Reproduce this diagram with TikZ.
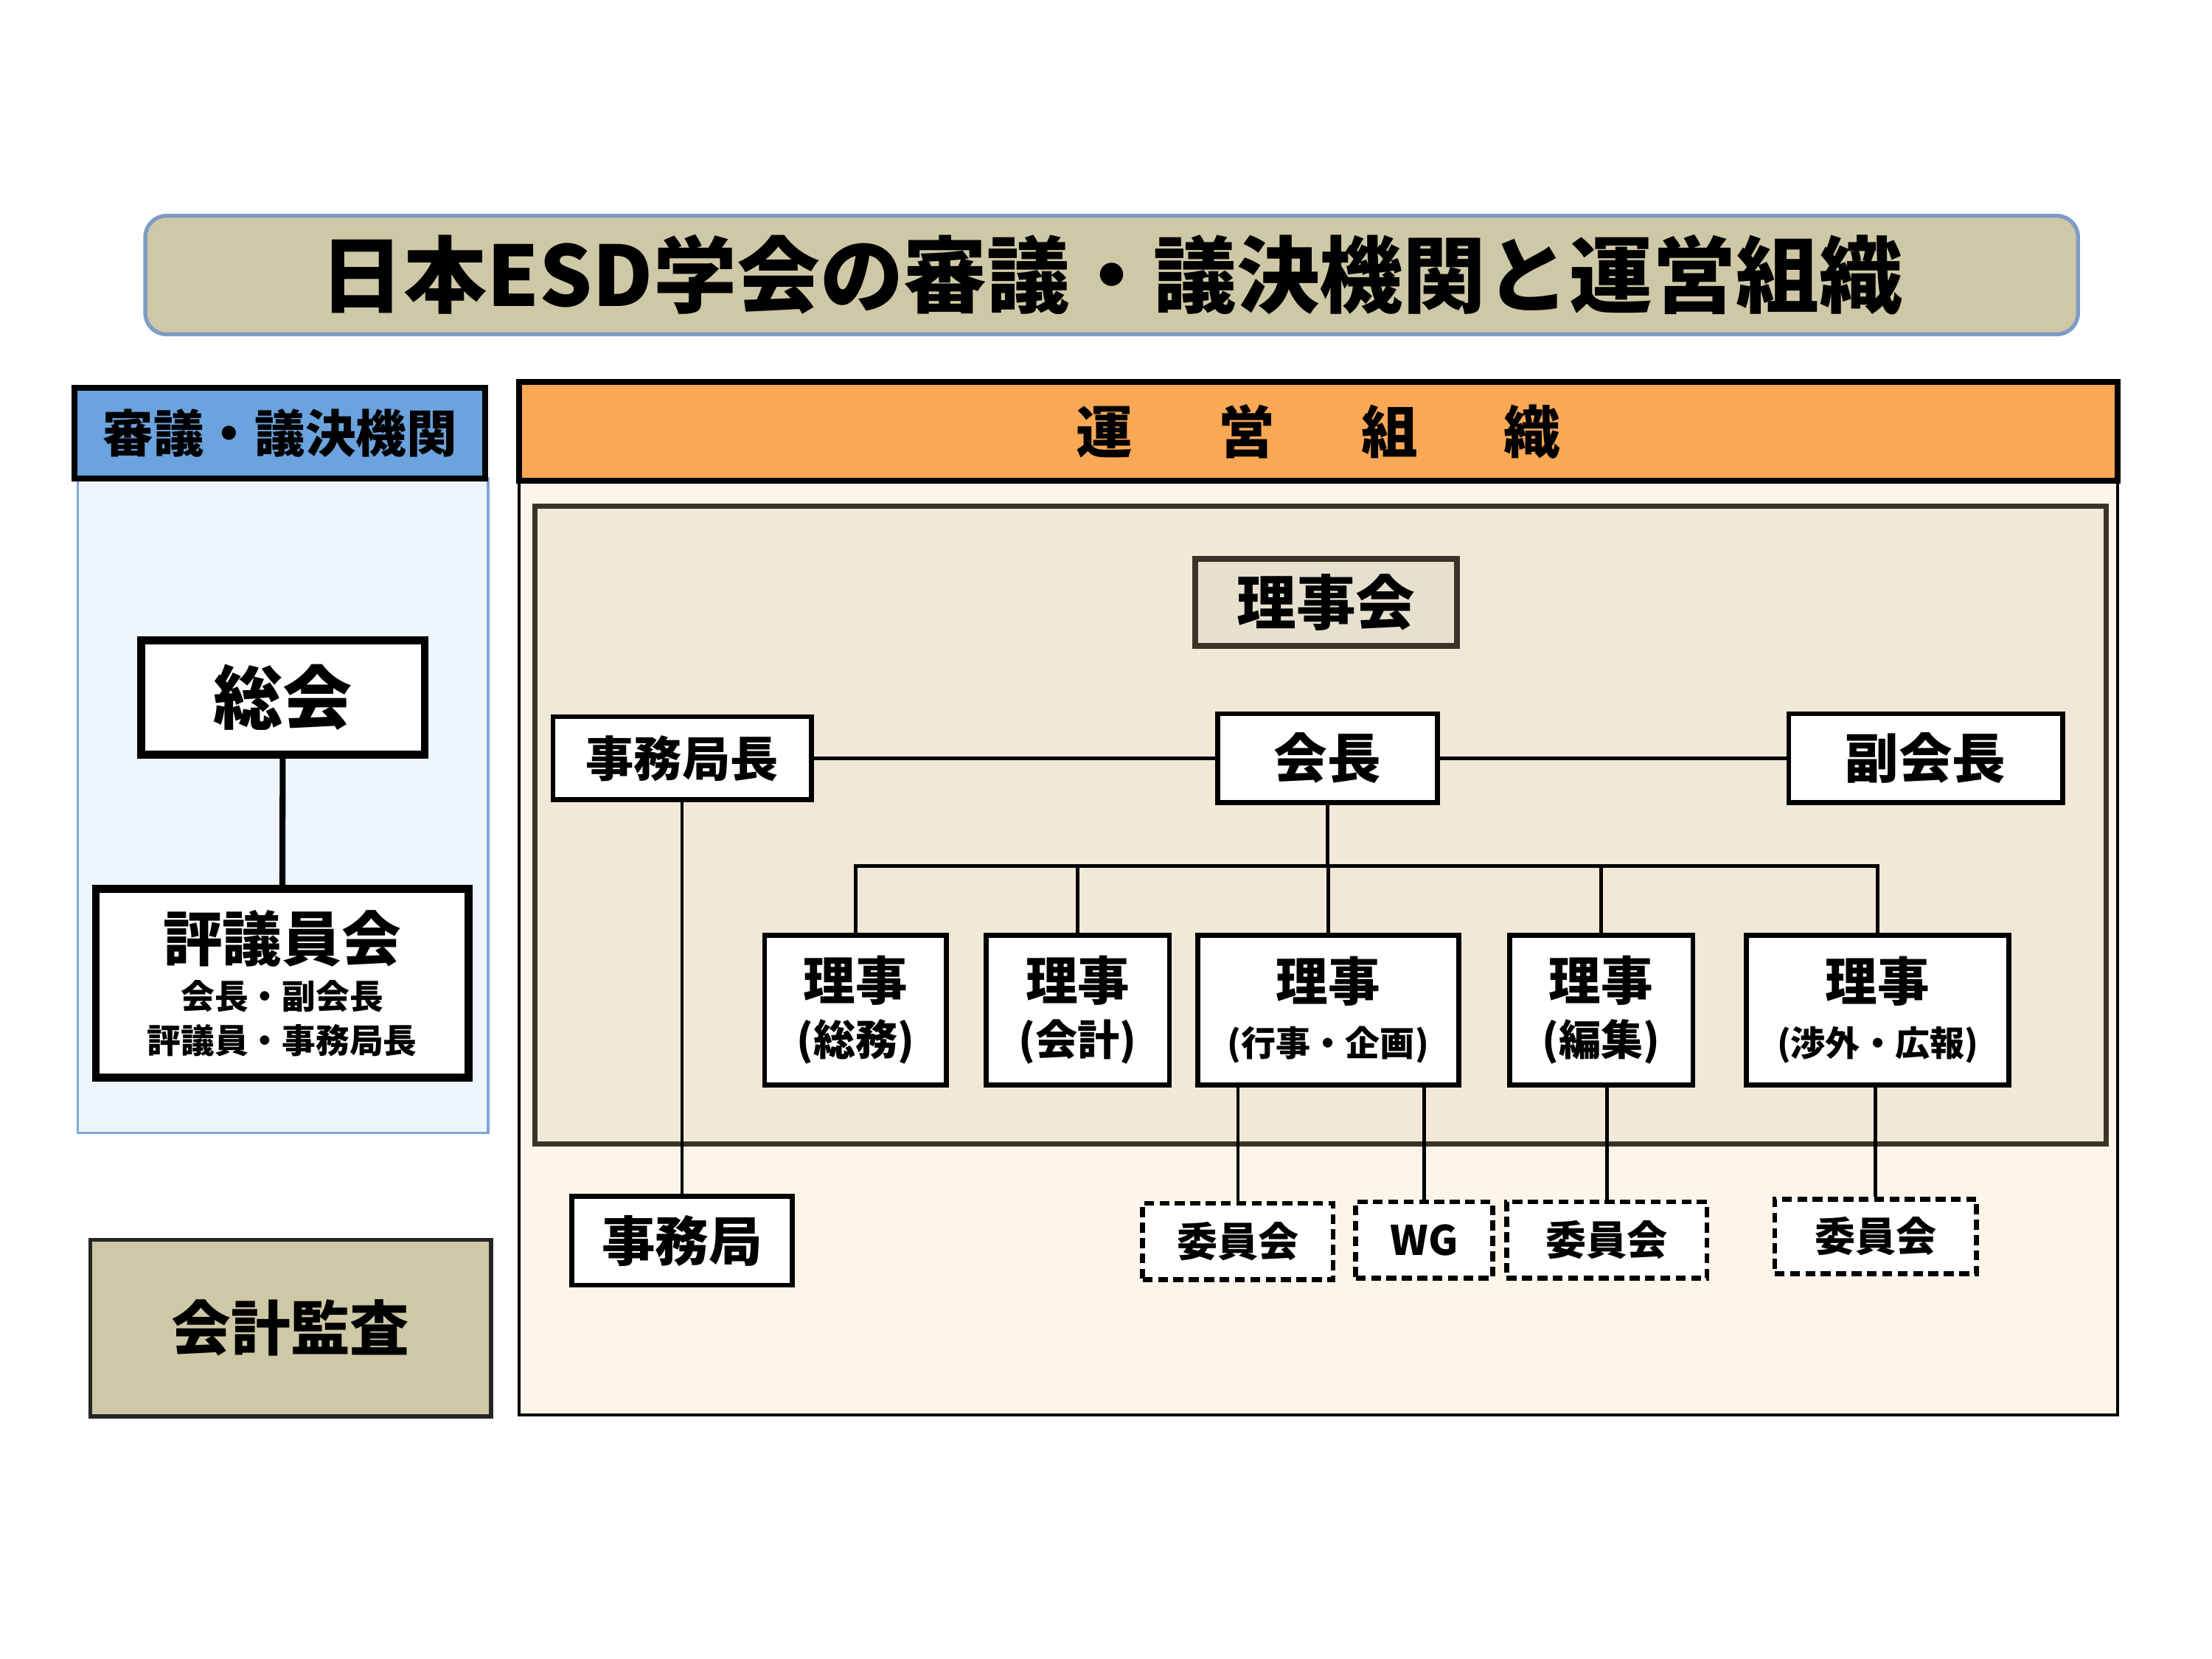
\documentclass[tikz,border=0pt]{standalone}
\usepackage{fontspec}
\setmainfont{Noto Sans CJK JP}
\usetikzlibrary{positioning}
\definecolor{tan}{HTML}{CEC8A6}
\definecolor{titleline}{HTML}{7E9CC4}
\definecolor{headblue}{HTML}{6BA3DE}
\definecolor{paleblue}{HTML}{EEF5FE}
\definecolor{paleline}{HTML}{7FA7D6}
\definecolor{headorange}{HTML}{F9A856}
\definecolor{cream}{HTML}{FDF5EA}
\definecolor{beige}{HTML}{F1E8D7}
\definecolor{greybeige}{HTML}{E6E1CF}
\definecolor{darkline}{HTML}{3A3428}
\newcommand{\fsz}[1]{\fontsize{#1}{1.15\dimexpr#1pt\relax}\selectfont\bfseries}

\begin{document}
\begin{tikzpicture}
  [every node/.style={draw,inner sep=0pt,align=center},
   box/.style={fill=white,line width=1pt},
   bigbox/.style={fill=white,line width=1.6pt},
   dbox/.style={fill=white,line width=1pt,dash pattern=on 2pt off 1.1pt},
   link/.style={line width=0.7pt}]
  \useasboundingbox (0,0) rectangle (15.68,11.76);
  \fill[white] (0,0) rectangle (15.68,11.76);
  \draw[fill=paleblue,draw=paleline,line width=0.5pt] (0.55,3.73) rectangle (3.46,8.37);
  \draw[fill=cream,line width=0.6pt] (3.68,1.73) rectangle (15.01,8.35);
  \draw[fill=beige,draw=darkline,line width=1pt] (3.79,3.65) rectangle (14.93,8.17);

  \node[fill=tan,draw=titleline,line width=0.8pt,rounded corners=0.15cm,minimum width=13.7cm,minimum height=0.84cm,
        font=\fsz{16.8}] (title) at (7.88,9.81) {日本ESD学会の審議・議決機関と運営組織};
  \node[fill=headblue,line width=1.2pt,minimum width=2.91cm,minimum height=0.64cm,font=\fsz{10.2}]
    (shingi) at (1.985,8.69) {審議・議決機関};
  \node[fill=headorange,line width=1.2pt,minimum width=11.33cm,minimum height=0.70cm,font=\fsz{11.4}]
    (unei) at (9.345,8.70) {運\hspace{0.61cm}営\hspace{0.61cm}組\hspace{0.61cm}織};

  \node[bigbox,minimum width=2.01cm,minimum height=0.81cm,font=\fsz{14}] (sokai) at (2.005,6.815) {総会};
  \node[bigbox,minimum width=2.64cm,minimum height=1.34cm,font=\fsz{12}] (hyogi) at (2.00,4.79)
    {評議員会\\[-4.1pt]\fsz{6.8}会長・副会長\\[-5pt]\fsz{6.8}評議員・事務局長};
  \node[fill=tan,draw=black!85,line width=0.8pt,minimum width=2.84cm,minimum height=1.25cm,font=\fsz{12}]
    (kansa) at (2.06,2.345) {会計監査};

  \node[fill=greybeige,draw=darkline,line width=1.2pt,minimum width=1.86cm,minimum height=0.62cm,font=\fsz{12}]
    (rijikai) at (9.40,7.49) {理事会};
  \node[box,minimum width=1.56cm,minimum height=0.63cm,font=\fsz{10.8}] (kaicho) at (9.41,6.385) {会長};
  \node[box,minimum width=1.83cm,minimum height=0.59cm,font=\fsz{9.7}] (jimucho) at (4.835,6.385) {事務局長};
  \node[box,minimum width=1.94cm,minimum height=0.63cm,font=\fsz{10.8}] (fuku) at (13.65,6.385) {副会長};

  \node[box,minimum width=1.29cm,minimum height=1.06cm,font=\fsz{10.5}] (r1) at (6.065,4.60)
    {理事\\[-1pt]\fsz{8.5}(総務)};
  \node[box,minimum width=1.30cm,minimum height=1.06cm,font=\fsz{10.5}] (r2) at (7.64,4.60)
    {理事\\[-1pt]\fsz{8.5}(会計)};
  \node[box,minimum width=1.85cm,minimum height=1.06cm,font=\fsz{10.5}] (r3) at (9.415,4.60)
    {理事\\[-1pt]\fsz{7}(行事・企画)};
  \node[box,minimum width=1.30cm,minimum height=1.06cm,font=\fsz{10.5}] (r4) at (11.35,4.60)
    {理事\\[-1pt]\fsz{8.5}(編集)};
  \node[box,minimum width=1.86cm,minimum height=1.06cm,font=\fsz{10.5}] (r5) at (13.31,4.60)
    {理事\\[-1pt]\fsz{7}(渉外・広報)};

  \node[box,minimum width=1.56cm,minimum height=0.63cm,font=\fsz{10.8}] (jimu) at (4.835,2.965) {事務局};

  \node[dbox,minimum width=1.35cm,minimum height=0.54cm,font=\fsz{8.2}] (i1) at (8.775,2.96) {委員会};
  \node[dbox,minimum width=0.97cm,minimum height=0.54cm,font=\fsz{8.2}] (wg) at (10.095,2.97) {WG};
  \node[dbox,minimum width=1.42cm,minimum height=0.54cm,font=\fsz{8.2}] (i2) at (11.39,2.97) {委員会};
  \node[dbox,minimum width=1.43cm,minimum height=0.53cm,font=\fsz{8.2}] (i3) at (13.295,2.995) {委員会};

  \coordinate (bus) at (0,5.62);
  \draw[line width=1.2pt] (sokai) -- (hyogi);
  \draw[link] (jimucho) -- (kaicho);
  \draw[link] (kaicho) -- (fuku);
  \draw[link] (jimucho) -- (jimu);
  \draw[link] (kaicho) -- (kaicho |- bus);
  \draw[link] (r1.north) -- (r1.north |- bus) -- (r5.north |- bus) -- (r5.north);
  \foreach \r in {r2,r3,r4}
    \draw[link] (\r.north) -- (\r.north |- bus);
  \foreach \from/\to in {r3/i1,r3/wg,r4/i2,r5/i3}
    \draw[link] (\from.south -| \to.north) -- (\to.north);
\end{tikzpicture}
\end{document}
